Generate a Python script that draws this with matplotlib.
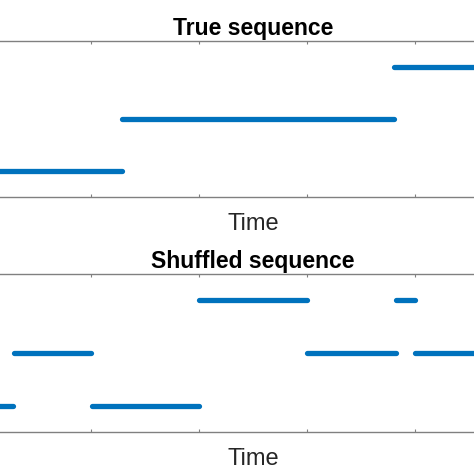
import matplotlib.pyplot as plt

# 数据:每段的起点、终点和所在层级
true_start = [-0.2, 1.29, 3.81]
true_end = [1.29, 3.81, 5.2]
true_level = [1, 2, 3]

shuf_start = [-0.2, 0.29, 1.01, 2.0, 3.0, 3.82, 4.0]
shuf_end = [0.28, 1.0, 2.0, 3.0, 3.82, 4.0, 5.2]
shuf_level = [1, 2, 1, 3, 2, 3, 2]

tick_pos = [1, 2, 3, 4]

blue = '#0072BD'
grey = '#808080'

plt.rcParams['font.family'] = ['Liberation Sans', 'DejaVu Sans']

fig = plt.figure(figsize=(4.74, 4.74), dpi=100)
ax1 = fig.add_axes([-17 / 474, 1 - 197 / 474, 540 / 474, 156 / 474])
ax2 = fig.add_axes([-17 / 474, 1 - 432 / 474, 540 / 474, 158 / 474])


def draw(ax, starts, ends, levels, title):
    for s, e, lv in zip(starts, ends, levels):
        ax.plot([s, e], [lv, lv], color=blue, linewidth=3.8, solid_capstyle='round')
    ax.set_xlim(0, 5)
    ax.set_ylim(0.5, 3.5)
    ax.set_xticks(tick_pos)
    ax.set_xticklabels([])
    ax.set_yticks([])
    ax.tick_params(axis='x', direction='in', length=2.5, width=0.8, color=grey,
                   top=True, bottom=True)
    for sp in ax.spines.values():
        sp.set_color(grey)
        sp.set_linewidth(1.0)
    ax.set_title(title, fontsize=16.5, fontweight='bold', pad=4)
    ax.set_xlabel('Time', fontsize=17, color='#262626', labelpad=8)


draw(ax1, true_start, true_end, true_level, 'True sequence')
draw(ax2, shuf_start, shuf_end, shuf_level, 'Shuffled sequence')

plt.savefig('out.png', dpi=100)
